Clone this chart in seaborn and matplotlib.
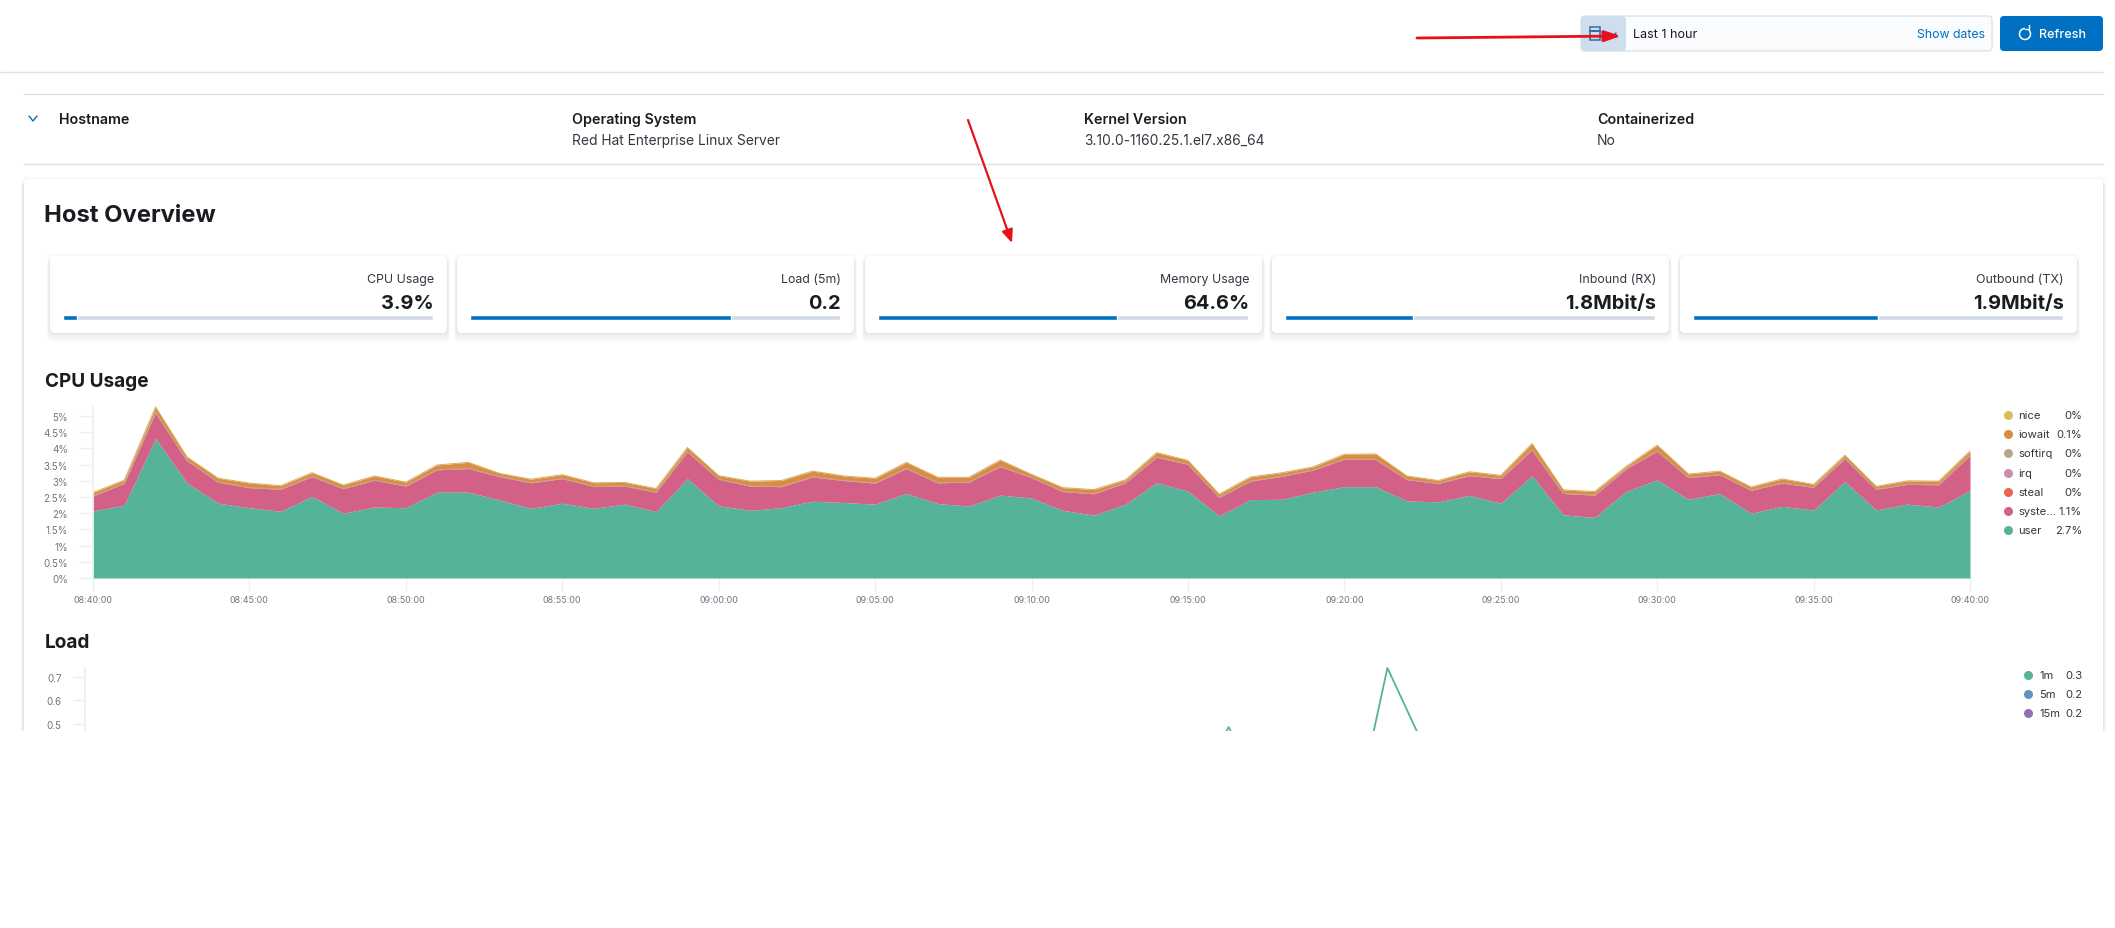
import matplotlib
matplotlib.use('Agg')
import matplotlib.pyplot as plt
import seaborn as sns
import numpy as np
from matplotlib.patches import FancyBboxPatch, FancyArrowPatch, Rectangle, Arc

# Values
minutes = list(range(61))
cpu_user = [2.07, 2.25, 4.31, 2.94, 2.31, 2.17, 2.06, 2.52, 2.00, 2.19, 2.17, 2.65, 2.65, 2.41, 2.15, 2.31, 2.15, 2.28, 2.05, 3.07,
            2.23, 2.09, 2.17, 2.37, 2.33, 2.28, 2.61, 2.30, 2.22, 2.56, 2.47, 2.09, 1.94, 2.28, 2.94, 2.68, 1.92, 2.42, 2.43, 2.65,
            2.82, 2.82, 2.38, 2.35, 2.55, 2.31, 3.16, 1.95, 1.87, 2.67, 3.03, 2.43, 2.61, 2.00, 2.21, 2.10, 2.98, 2.10, 2.28, 2.19, 2.70]
cpu_system = [.46, .67, .80, .69, .65, .62, .68, .61, .76, .83, .67, .69, .73, .72, .79, .76, .68, .56, .60, .83,
              .82, .75, .65, .75, .68, .65, .77, .64, .74, .88, .63, .58, .66, .66, .79, .83, .57, .57, .71, .68,
              .85, .84, .66, .57, .61, .76, .80, .66, .69, .69, .89, .67, .58, .71, .72, .70, .71, .64, .61, .69, 1.09]
cpu_iowait = [.11, .10, .17, .11, .12, .14, .11, .12, .11, .13, .12, .15, .19, .10, .11, .12, .11, .11, .11, .13,
              .11, .15, .19, .18, .14, .15, .19, .17, .15, .20, .10, .12, .13, .09, .14, .12, .10, .13, .11, .10,
              .15, .17, .11, .09, .12, .10, .19, .11, .11, .08, .18, .11, .11, .10, .13, .09, .10, .09, .11, .11, .13]
load_1m = [.21, .18, .24, .2, .17, .15, .22, .19, .26, .2, .16, .14, .18, .23, .2, .17, .25, .21, .16, .19,
           .28, .22, .18, .15, .2, .24, .19, .16, .21, .18, .23, .2, .17, .22, .19, .21, .485, .22, .16, .13,
           .11, .739, .445, .3, .24, .2, .18, .22, .17, .2, .25, .19, .16, .21, .18, .15, .22, .19, .24, .2, .26]

cpu_yticks = [0, .5, 1, 1.5, 2, 2.5, 3, 3.5, 4, 4.5, 5]
cpu_ylabels = ['0%', '0.5%', '1%', '1.5%', '2%', '2.5%', '3%', '3.5%', '4%', '4.5%', '5%']
time_ticks = list(range(0, 61, 5))
time_labels = ['08:40:00', '08:45:00', '08:50:00', '08:55:00', '09:00:00', '09:05:00', '09:10:00',
               '09:15:00', '09:20:00', '09:25:00', '09:30:00', '09:35:00', '09:40:00']
load_yticks = [.5, .6, .7]

cpu_legend = ['nice', 'iowait', 'softirq', 'irq', 'steal', 'syste...', 'user']
cpu_legend_values = ['0%', '0.1%', '0%', '0%', '0%', '1.1%', '2.7%']
cpu_legend_colors = ['#D6BF57', '#DA8B45', '#B9A888', '#CA8EAE', '#E7664C', '#D36086', '#54B399']
load_legend = ['1m', '5m', '15m']
load_legend_values = ['0.3', '0.2', '0.2']
load_legend_colors = ['#54B399', '#6092C0', '#9170B8']

stat_labels = ['CPU Usage', 'Load (5m)', 'Memory Usage', 'Inbound (RX)', 'Outbound (TX)']
stat_values = ['3.9%', '0.2', '64.6%', '1.8Mbit/s', '1.9Mbit/s']
stat_fracs = [0.037, 0.706, 0.646, 0.346, 0.50]

meta_heads = ['Operating System', 'Kernel Version', 'Containerized']
meta_values = ['Red Hat Enterprise Linux Server', '3.10.0-1160.25.1.el7.x86_64', 'No']

W, H = 2115, 929
BLUE = '#0071C2'
INK = '#1A1C21'
GRID = '#EDEFF3'
TICK = '#6F7682'

sns.set_theme(style='white')
plt.rcParams['font.family'] = ['Inter', 'DejaVu Sans']


def px(size):
    return size * 0.72


def px_axes(left, top, right, bottom):
    ax = fig.add_axes([left / W, 1 - bottom / H, (right - left) / W, (bottom - top) / H])
    ax.patch.set_visible(False)
    return ax


def card(x0, y0, x1, y1, depth):
    # faint ring all round, then a soft shadow mostly below the card
    for i in range(4, 0, -1):
        bg.add_patch(FancyBboxPatch((x0 - i * 0.7, y0 - i * 0.7), x1 - x0 + i * 1.4, y1 - y0 + i * 1.4,
                                    boxstyle='round,pad=0,rounding_size=5', fc='#69707D', ec='none', alpha=0.012))
    for i in range(depth, 0, -1):
        bg.add_patch(FancyBboxPatch((x0 - i * 0.35, y0 + i * 0.5), x1 - x0 + i * 0.7, y1 - y0 + i * 0.6,
                                    boxstyle='round,pad=0,rounding_size=5', fc='#69707D', ec='none', alpha=0.012))
    bg.add_patch(FancyBboxPatch((x0, y0), x1 - x0, y1 - y0, boxstyle='round,pad=0,rounding_size=5',
                                fc='white', ec='none'))


fig = plt.figure(figsize=(W / 100, H / 100), dpi=100, facecolor='white')
bg = fig.add_axes([0, 0, 1, 1])
bg.set_xlim(0, W)
bg.set_ylim(H - 1, -1)
bg.axis('off')

# Top bar
bg.plot([0, 2103], [72, 72], color='#DDE1E6', lw=1)
bg.add_patch(FancyBboxPatch((1581, 16), 411, 35, boxstyle='round,pad=0,rounding_size=4', fc='#FBFCFD', ec='#DDE3EA', lw=1))
bg.add_patch(FancyBboxPatch((1581, 16), 45, 35, boxstyle='round,pad=0,rounding_size=4', fc='#CFDEEE', ec='none'))
bg.add_patch(Rectangle((1590, 27), 10, 13, fc='none', ec='#2E6EA8', lw=1.1))
bg.plot([1590, 1600], [31, 31], color='#2E6EA8', lw=1.4)
bg.plot([1608, 1612, 1616], [33, 37, 33], color='#2E6EA8', lw=1)
bg.text(1633, 34, 'Last 1 hour', fontsize=px(12.6), color=INK, va='center')
bg.text(1985, 34, 'Show dates', fontsize=px(12.3), color='#0071C2', va='center', ha='right')
bg.add_patch(FancyBboxPatch((2000, 16), 103, 35, boxstyle='round,pad=0,rounding_size=4', fc=BLUE, ec='none'))
bg.add_patch(Arc((2025, 34), 11, 11, theta1=-45, theta2=270, color='white', lw=1.1))
bg.plot([2025, 2029, 2029], [28.5, 28.5, 25], color='white', lw=1)
bg.text(2039, 34, 'Refresh', fontsize=px(12.6), color='white', va='center', fontweight='medium')

# Host row
bg.plot([24, 2103], [94, 94], color='#DDE1E6', lw=1)
bg.plot([24, 2103], [164, 164], color='#DDE1E6', lw=1)
bg.plot([29, 33, 37], [116, 121, 116], color=BLUE, lw=1)
bg.text(59, 119, 'Hostname', fontsize=px(14.3), fontweight='semibold', color=INK, va='center')
for x, head, val in zip([572, 1084, 1597], meta_heads, meta_values):
    bg.text(x, 119, head, fontsize=px(14.3), fontweight='semibold', color=INK, va='center')
    bg.text(x, 140, val, fontsize=px(13.8), color='#343741', va='center')

# Main panel
card(24, 179, 2103, 900, 10)
bg.text(44.5, 215, 'Host Overview', fontsize=px(23.8), fontweight='bold', color=INK, va='center')

# Stat cards
card_left = [50, 457, 865, 1272, 1680]
for x0, label, val, frac in zip(card_left, stat_labels, stat_values, stat_fracs):
    card(x0, 256, x0 + 397, 333, 9)
    bg.text(x0 + 384, 279, label, fontsize=px(12.4), color='#343741', va='center', ha='right')
    bg.text(x0 + 384, 303, val, fontsize=px(20), fontweight='bold', color=INK, va='center', ha='right')
    bar_ax = px_axes(x0 + 13, 316, x0 + 383, 321)
    sns.barplot(x=[1.0], y=['a'], color='#D3DAE6', width=1, saturation=1, ax=bar_ax)
    sns.barplot(x=[frac], y=['a'], color=BLUE, width=1, saturation=1, ax=bar_ax)
    bar_ax.set_xlim(0, 1)
    bar_ax.set_ylim(-0.5, 0.5)
    bar_ax.axis('off')

bg.text(45, 381, 'CPU Usage', fontsize=px(19), fontweight='bold', color=INK, va='center')
bg.text(45, 642, 'Load', fontsize=px(19), fontweight='bold', color=INK, va='center')

# CPU chart
ax = px_axes(93, 407, 1970, 579)
ax.stackplot(minutes, cpu_user, cpu_system, cpu_iowait,
             colors=['#54B399', '#D36086', '#DA8B45'], lw=0)
user_top = np.array(cpu_user)
system_top = user_top + np.array(cpu_system)
total_top = system_top + np.array(cpu_iowait)
sns.lineplot(x=minutes, y=system_top, color='#C9A38E', lw=0.8, ax=ax)
sns.lineplot(x=minutes, y=total_top, color='#D9AE5A', lw=0.7, ax=ax)
ax.set_xlim(0, 60)
ax.set_ylim(0, 5.31)
ax.set_yticks(cpu_yticks)
ax.set_yticklabels(cpu_ylabels)
ax.set_xticks(time_ticks)
ax.set_xticklabels(time_labels)
ax.set_xlabel('')
ax.set_ylabel('')
sns.despine(ax=ax, bottom=True)
ax.spines['left'].set_color(GRID)
ax.spines['left'].set_bounds(0, 5.28)
ax.tick_params(axis='y', length=10, width=1, color=GRID, pad=8, labelsize=px(9.8), labelcolor=TICK, left=True)
ax.tick_params(axis='x', length=9, width=1, color=GRID, pad=3, labelsize=px(8.9), labelcolor=TICK, bottom=True)

# Load chart, cut off by the screenshot edge
ax2 = px_axes(85, 666, 1991, 732)
sns.lineplot(x=minutes, y=load_1m, color='#54B399', lw=1.3, ax=ax2)
ax2.set_xlim(0, 60)
ax2.set_ylim(0.468, 0.7515)
ax2.set_yticks(load_yticks)
ax2.set_yticklabels(['0.5', '0.6', '0.7'])
ax2.set_xticks([])
ax2.set_xlabel('')
ax2.set_ylabel('')
sns.despine(ax=ax2, bottom=True)
ax2.spines['left'].set_color(GRID)
ax2.spines['left'].set_bounds(0.468, 0.739)
ax2.tick_params(axis='y', length=9, width=1, color=GRID, pad=8, labelsize=px(9.8), labelcolor=TICK, left=True)

# Legends
for i, (name, val, col) in enumerate(zip(cpu_legend, cpu_legend_values, cpu_legend_colors)):
    y = 415 + i * 19.2
    bg.scatter([2007.5], [y], s=42, color=col, lw=0)
    bg.text(2018.5, y, name, fontsize=px(11.2), color='#343741', va='center')
    bg.text(2082, y, val, fontsize=px(11.2), color='#343741', va='center', ha='right')
for i, (name, val, col) in enumerate(zip(load_legend, load_legend_values, load_legend_colors)):
    y = 675 + i * 19
    bg.scatter([2028], [y], s=42, color=col, lw=0)
    bg.text(2039, y, name, fontsize=px(11.2), color='#343741', va='center')
    bg.text(2082, y, val, fontsize=px(11.2), color='#343741', va='center', ha='right')

# Screenshot ends here
bg.add_patch(Rectangle((0, 731), W, H - 731, fc='white', ec='none', zorder=5))

# Red annotation arrows
over = px_axes(0, 0, W, H)
over.set_xlim(0, W)
over.set_ylim(H - 1, -1)
over.axis('off')
over.add_patch(FancyArrowPatch((1417, 38), (1621, 36), arrowstyle='-|>,head_length=3.3,head_width=1.1',
                               color='#E8101A', lw=2, shrinkA=0, shrinkB=0, mutation_scale=3))
over.add_patch(FancyArrowPatch((968, 120), (1012, 243), arrowstyle='-|>,head_length=2.6,head_width=1.1',
                               color='#E8101A', lw=1.6, shrinkA=0, shrinkB=0, mutation_scale=3))

fig.savefig('out.png', dpi=100)
